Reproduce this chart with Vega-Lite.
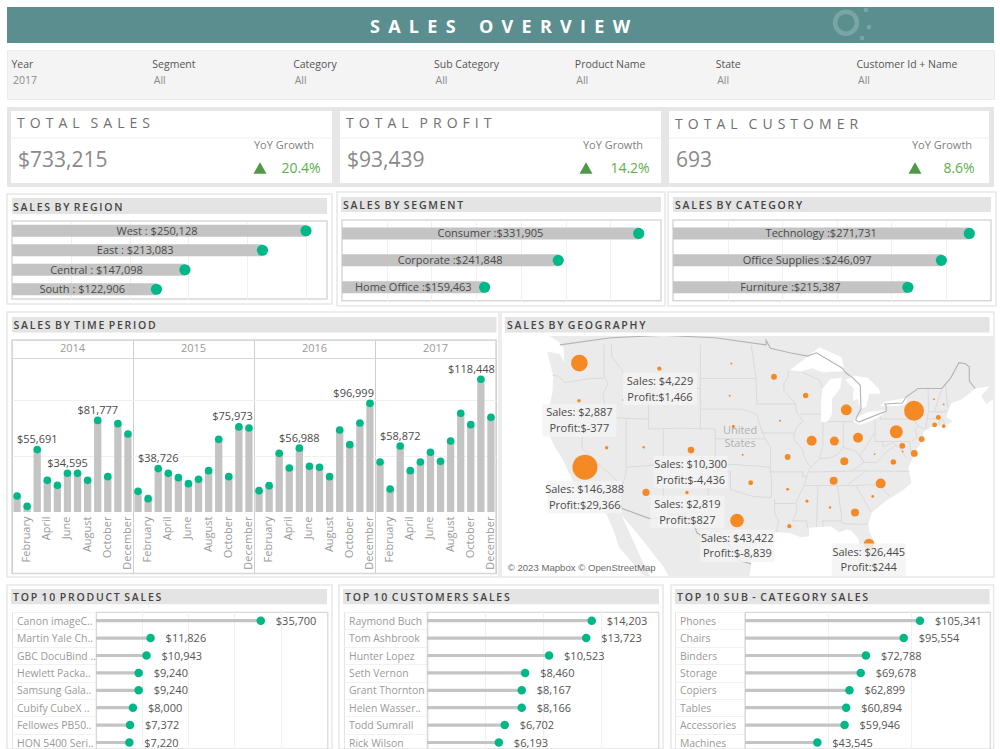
{"$schema":"https://vega.github.io/schema/vega-lite/v6.json","padding":0,"background":"white","config":{"font":"Open Sans","view":{"stroke":null}},"bounds":"flush","spacing":0,"vconcat":[
{"bounds":"flush","spacing":0,"vconcat":[{"width":1,"height":7,"mark":"text","encoding":{}},{"bounds":"flush","spacing":0,"hconcat":[{"width":7,"height":1,"mark":"text","encoding":{}},
{"width":987,"height":36,"view":{"fill":"#5b8e8e"},"data":{"values":[{"p":0,"title":"S \u200a\u200aA \u200a\u200aL \u200a\u200aE \u200a\u200aS \u00a0\u00a0\u00a0 O \u200a\u200aV \u200a\u200aE \u200a\u200aR \u200a\u200aV \u200a\u200aI \u200a\u200aE \u200a\u200aW"},{"p":1},{"p":2},{"p":3}]},
"layer":[
{"transform":[{"filter":"datum.p===0"}],"mark":{"type":"point","filled":false,"strokeWidth":4.5,"color":"#8fb5b5","size":480,"opacity":0.6},"encoding":{"x":{"field":"p","type":"quantitative","axis":null,"scale":{"domain":[0,1,2,3],"range":[839,859,862,855],"nice":false,"zero":false}},"y":{"field":"p","type":"quantitative","axis":null,"scale":{"domain":[0,1,2,3],"range":[15.7,3,20,31],"nice":false,"zero":false}}}},
{"transform":[{"filter":"datum.p!==0"}],"mark":{"type":"circle","color":"#8fb5b5","size":22,"opacity":0.6},"encoding":{"x":{"field":"p","type":"quantitative","axis":null,"scale":{"domain":[0,1,2,3],"range":[839,859,862,855],"nice":false,"zero":false}},"y":{"field":"p","type":"quantitative","axis":null,"scale":{"domain":[0,1,2,3],"range":[15.7,3,20,31],"nice":false,"zero":false}}}},
{"transform":[{"filter":"datum.p===0"}],"mark":{"type":"text","color":"white","fontWeight":"bold","fontSize":18,"dx":-0.5,"dy":2.5},"encoding":{"text":{"field":"title"}}}
]}]}]},
{"bounds":"flush","spacing":0,"vconcat":[{"width":1,"height":50,"mark":"text","encoding":{}},{"bounds":"flush","spacing":0,"hconcat":[{"width":7,"height":1,"mark":"text","encoding":{}},
{"width":987,"height":49,"view":{"fill":"#f4f4f4","stroke":"#ececec"},"data":{"values":[{"f":"Year","v":"2017"},{"f":"Segment","v":"All"},{"f":"Category","v":"All"},{"f":"Sub Category","v":"All"},{"f":"Product Name","v":"All"},{"f":"State","v":"All"},{"f":"Customer Id + Name","v":"All"}]},
"encoding":{"x":{"field":"f","type":"nominal","sort":null,"axis":null,"scale":{"type":"point","range":[4.5,849.5],"padding":0}}},
"layer":[{"mark":{"type":"text","align":"left","fontSize":10.5,"color":"#555555","dy":-9.7},"encoding":{"text":{"field":"f"}}},{"mark":{"type":"text","align":"left","fontSize":10.5,"color":"#8a8a8a","dx":1.5,"dy":6},"encoding":{"text":{"field":"v"}}}]}]}]},
{"bounds":"flush","spacing":0,"vconcat":[{"width":1,"height":107,"mark":"text","encoding":{}},{"bounds":"flush","spacing":0,"hconcat":[{"width":7,"height":1,"mark":"text","encoding":{}},{"width":987,"height":80,"view":{"fill":"#e6e6e6"},"mark":"text","encoding":{}}]}]},
{"bounds":"flush","spacing":0,"vconcat":[{"width":1,"height":111,"mark":"text","encoding":{}},{"bounds":"flush","spacing":0,"hconcat":[{"width":11,"height":1,"mark":"text","encoding":{}},
{"width":321,"height":72,"view":{"fill":"white"},"data":{"values":[{"p":0},{"p":1,"t":"T \u200aO \u200aT \u200aA \u200aL \u00a0 S \u200aA \u200aL \u200aE \u200aS"},{"p":2,"t":"$733,215"},{"p":3,"t":"YoY Growth"},{"p":4},{"p":5,"t":"20.4%"}]},
"layer":[{"transform":[{"filter":"datum.p===0"}],"mark":{"type":"rule","color":"#f0f0f0"},"encoding":{"y":{"field":"p","type":"quantitative","axis":null,"scale":{"domain":[0,1,2,3,4,5],"range":[27,12,49,34,57,57],"nice":false,"zero":false}}}},
{"encoding":{"x":{"field":"p","type":"quantitative","axis":null,"scale":{"domain":[0,1,2,3,4,5],"range":[0,6,7,273,249,290],"nice":false,"zero":false}},"y":{"field":"p","type":"quantitative","axis":null,"scale":{"domain":[0,1,2,3,4,5],"range":[27,12,49,34,57,57],"nice":false,"zero":false}}},
"layer":[{"transform":[{"filter":"datum.p===1"}],"mark":{"type":"text","align":"left","fontSize":14,"color":"#707070","dy":1},"encoding":{"text":{"field":"t"}}},
{"transform":[{"filter":"datum.p===2"}],"mark":{"type":"text","align":"left","fontSize":21,"color":"#8a8a8a","dy":1},"encoding":{"text":{"field":"t"}}},
{"transform":[{"filter":"datum.p===3"}],"mark":{"type":"text","fontSize":11,"color":"#808080","dy":1},"encoding":{"text":{"field":"t"}}},
{"transform":[{"filter":"datum.p===4"}],"mark":{"type":"point","shape":"triangle-up","filled":true,"opacity":1,"size":170,"color":"#4e9a47"}},
{"transform":[{"filter":"datum.p===5"}],"mark":{"type":"text","fontSize":14,"color":"#5cb04c","dy":1},"encoding":{"text":{"field":"t"}}}]}]}]}]},
{"bounds":"flush","spacing":0,"vconcat":[{"width":1,"height":111,"mark":"text","encoding":{}},{"bounds":"flush","spacing":0,"hconcat":[{"width":340,"height":1,"mark":"text","encoding":{}},
{"width":321,"height":72,"view":{"fill":"white"},"data":{"values":[{"p":0},{"p":1,"t":"T \u200aO \u200aT \u200aA \u200aL \u00a0 P \u200aR \u200aO \u200aF \u200aI \u200aT"},{"p":2,"t":"$93,439"},{"p":3,"t":"YoY Growth"},{"p":4},{"p":5,"t":"14.2%"}]},
"layer":[{"transform":[{"filter":"datum.p===0"}],"mark":{"type":"rule","color":"#f0f0f0"},"encoding":{"y":{"field":"p","type":"quantitative","axis":null,"scale":{"domain":[0,1,2,3,4,5],"range":[27,12,49,34,57,57],"nice":false,"zero":false}}}},
{"encoding":{"x":{"field":"p","type":"quantitative","axis":null,"scale":{"domain":[0,1,2,3,4,5],"range":[0,6,7,273,246,290],"nice":false,"zero":false}},"y":{"field":"p","type":"quantitative","axis":null,"scale":{"domain":[0,1,2,3,4,5],"range":[27,12,49,34,57,57],"nice":false,"zero":false}}},
"layer":[{"transform":[{"filter":"datum.p===1"}],"mark":{"type":"text","align":"left","fontSize":14,"color":"#707070","dy":1},"encoding":{"text":{"field":"t"}}},
{"transform":[{"filter":"datum.p===2"}],"mark":{"type":"text","align":"left","fontSize":21,"color":"#8a8a8a","dy":1},"encoding":{"text":{"field":"t"}}},
{"transform":[{"filter":"datum.p===3"}],"mark":{"type":"text","fontSize":11,"color":"#808080","dy":1},"encoding":{"text":{"field":"t"}}},
{"transform":[{"filter":"datum.p===4"}],"mark":{"type":"point","shape":"triangle-up","filled":true,"opacity":1,"size":170,"color":"#4e9a47"}},
{"transform":[{"filter":"datum.p===5"}],"mark":{"type":"text","fontSize":14,"color":"#5cb04c","dy":1},"encoding":{"text":{"field":"t"}}}]}]}]}]},
{"bounds":"flush","spacing":0,"vconcat":[{"width":1,"height":111,"mark":"text","encoding":{}},{"bounds":"flush","spacing":0,"hconcat":[{"width":669,"height":1,"mark":"text","encoding":{}},
{"width":320,"height":72,"view":{"fill":"white"},"data":{"values":[{"p":0},{"p":1,"t":"T \u200aO \u200aT \u200aA \u200aL \u00a0 C \u200aU \u200aS \u200aT \u200aO \u200aM \u200aE \u200aR"},{"p":2,"t":"693"},{"p":3,"t":"YoY Growth"},{"p":4},{"p":5,"t":"8.6%"}]},
"layer":[{"transform":[{"filter":"datum.p===0"}],"mark":{"type":"rule","color":"#f0f0f0"},"encoding":{"y":{"field":"p","type":"quantitative","axis":null,"scale":{"domain":[0,1,2,3,4,5],"range":[27,13,49,34,57,57],"nice":false,"zero":false}}}},
{"encoding":{"x":{"field":"p","type":"quantitative","axis":null,"scale":{"domain":[0,1,2,3,4,5],"range":[0,6,7,273,246,290],"nice":false,"zero":false}},"y":{"field":"p","type":"quantitative","axis":null,"scale":{"domain":[0,1,2,3,4,5],"range":[27,13,49,34,57,57],"nice":false,"zero":false}}},
"layer":[{"transform":[{"filter":"datum.p===1"}],"mark":{"type":"text","align":"left","fontSize":14,"color":"#707070","dy":1},"encoding":{"text":{"field":"t"}}},
{"transform":[{"filter":"datum.p===2"}],"mark":{"type":"text","align":"left","fontSize":21,"color":"#8a8a8a","dy":1},"encoding":{"text":{"field":"t"}}},
{"transform":[{"filter":"datum.p===3"}],"mark":{"type":"text","fontSize":11,"color":"#808080","dy":1},"encoding":{"text":{"field":"t"}}},
{"transform":[{"filter":"datum.p===4"}],"mark":{"type":"point","shape":"triangle-up","filled":true,"opacity":1,"size":170,"color":"#4e9a47"}},
{"transform":[{"filter":"datum.p===5"}],"mark":{"type":"text","fontSize":14,"color":"#5cb04c","dy":1},"encoding":{"text":{"field":"t"}}}]}]}]}]},

{"bounds":"flush","spacing":0,"vconcat":[{"width":1,"height":194,"mark":"text","encoding":{}},{"bounds":"flush","spacing":0,"hconcat":[{"width":7,"height":1,"mark":"text","encoding":{}},{"width":325,"height":110,"view":{"stroke":"#e8e8e8","strokeWidth":1.5},"mark":"text","encoding":{}}]}]},
{"bounds":"flush","spacing":0,"vconcat":[{"width":1,"height":192,"mark":"text","encoding":{}},{"bounds":"flush","spacing":0,"hconcat":[{"width":337,"height":1,"mark":"text","encoding":{}},{"width":328,"height":114,"view":{"stroke":"#e8e8e8","strokeWidth":1.5},"mark":"text","encoding":{}}]}]},
{"bounds":"flush","spacing":0,"vconcat":[{"width":1,"height":192,"mark":"text","encoding":{}},{"bounds":"flush","spacing":0,"hconcat":[{"width":668,"height":1,"mark":"text","encoding":{}},{"width":328,"height":114,"view":{"stroke":"#e8e8e8","strokeWidth":1.5},"mark":"text","encoding":{}}]}]},
{"bounds":"flush","spacing":0,"vconcat":[{"width":1,"height":198,"mark":"text","encoding":{}},{"bounds":"flush","spacing":0,"hconcat":[{"width":12,"height":1,"mark":"text","encoding":{}},
{"width":315,"height":16,"view":{"fill":"#e4e4e4"},"data":{"values":[{"t":"S\u2009A\u2009L\u2009E\u2009S \u2009B\u2009Y \u2009R\u2009E\u2009G\u2009I\u2009O\u2009N"}]},"mark":{"type":"text","align":"left","dx":1,"dy":1.5,"fontSize":10.5,"fontWeight":600,"color":"#444444"},"encoding":{"x":{"datum":0,"type":"quantitative","axis":null,"scale":{"domain":[0,1]}},"text":{"field":"t"}}}]}]},
{"bounds":"flush","spacing":0,"vconcat":[{"width":1,"height":197,"mark":"text","encoding":{}},{"bounds":"flush","spacing":0,"hconcat":[{"width":341,"height":1,"mark":"text","encoding":{}},
{"width":320,"height":15,"view":{"fill":"#e4e4e4"},"data":{"values":[{"t":"S\u2009A\u2009L\u2009E\u2009S \u2009B\u2009Y \u2009S\u2009E\u2009G\u2009M\u2009E\u2009N\u2009T"}]},"mark":{"type":"text","align":"left","dx":2,"dy":1,"fontSize":10.5,"fontWeight":600,"color":"#444444"},"encoding":{"x":{"datum":0,"type":"quantitative","axis":null,"scale":{"domain":[0,1]}},"text":{"field":"t"}}}]}]},
{"bounds":"flush","spacing":0,"vconcat":[{"width":1,"height":197,"mark":"text","encoding":{}},{"bounds":"flush","spacing":0,"hconcat":[{"width":673,"height":1,"mark":"text","encoding":{}},
{"width":318,"height":15,"view":{"fill":"#e4e4e4"},"data":{"values":[{"t":"S\u2009A\u2009L\u2009E\u2009S \u2009B\u2009Y \u2009C\u2009A\u2009T\u2009E\u2009G\u2009O\u2009R\u2009Y"}]},"mark":{"type":"text","align":"left","dx":2,"dy":1,"fontSize":10.5,"fontWeight":600,"color":"#444444"},"encoding":{"x":{"datum":0,"type":"quantitative","axis":null,"scale":{"domain":[0,1]}},"text":{"field":"t"}}}]}]},

{"bounds":"flush","spacing":0,"vconcat":[{"width":1,"height":221,"mark":"text","encoding":{}},{"bounds":"flush","spacing":0,"hconcat":[{"width":12,"height":1,"mark":"text","encoding":{}},
{"width":315,"height":78,"view":{"stroke":"#d8d8d8","strokeWidth":1.5},"data":{"values":[{"name":"West","sales":250128,"label":"West : $250,128"},{"name":"East","sales":213083,"label":"East : $213,083"},{"name":"Central","sales":147098,"label":"Central : $147,098"},{"name":"South","sales":122906,"label":"South : $122,906"}]},
"encoding":{"y":{"field":"name","type":"nominal","sort":null,"axis":null,"scale":{"type":"band","paddingInner":0,"paddingOuter":0}}},
"layer":[{"mark":{"type":"bar","size":12,"color":"#c4c4c4"},"encoding":{"x":{"field":"sales","type":"quantitative","scale":{"domain":[0,268000],"nice":false},"axis":{"values":[50000,100000,150000,200000,250000],"grid":true,"gridColor":"#f0f0f0","labels":false,"ticks":false,"domain":false,"title":null}}}},
{"mark":{"type":"circle","size":125,"color":"#00b887","opacity":1},"encoding":{"x":{"field":"sales","type":"quantitative","scale":{"domain":[0,268000],"nice":false},"axis":null}}},
{"mark":{"type":"text","fontSize":11,"color":"#4a4a4a","dx":-2,"dy":1},"encoding":{"x":{"field":"sales","type":"quantitative","scale":{"domain":[0,536000],"nice":false},"axis":null},"text":{"field":"label"}}}],"resolve":{"scale":{"x":"independent"}}}]}]},
{"bounds":"flush","spacing":0,"vconcat":[{"width":1,"height":219.5,"mark":"text","encoding":{}},{"bounds":"flush","spacing":0,"hconcat":[{"width":342,"height":1,"mark":"text","encoding":{}},
{"width":319,"height":80.7,"view":{"stroke":"#d8d8d8","strokeWidth":1.5},"data":{"values":[{"name":"Consumer","sales":331905,"label":"Consumer :$331,905"},{"name":"Corporate","sales":241848,"label":"Corporate :$241,848"},{"name":"Home Office","sales":159463,"label":"Home Office :$159,463"}]},
"encoding":{"y":{"field":"name","type":"nominal","sort":null,"axis":null,"scale":{"type":"band","paddingInner":0,"paddingOuter":0}}},
"layer":[{"mark":{"type":"bar","size":12,"color":"#c4c4c4"},"encoding":{"x":{"field":"sales","type":"quantitative","scale":{"domain":[0,356800],"nice":false},"axis":{"values":[50000,100000,150000,200000,250000,300000],"grid":true,"gridColor":"#f0f0f0","labels":false,"ticks":false,"domain":false,"title":null}}}},
{"mark":{"type":"circle","size":125,"color":"#00b887","opacity":1},"encoding":{"x":{"field":"sales","type":"quantitative","scale":{"domain":[0,356800],"nice":false},"axis":null}}},
{"mark":{"type":"text","fontSize":11,"color":"#4a4a4a","dy":1},"encoding":{"x":{"field":"sales","type":"quantitative","scale":{"domain":[0,713600],"nice":false},"axis":null},"text":{"field":"label"}}}],"resolve":{"scale":{"x":"independent"}}}]}]},
{"bounds":"flush","spacing":0,"vconcat":[{"width":1,"height":219.5,"mark":"text","encoding":{}},{"bounds":"flush","spacing":0,"hconcat":[{"width":673,"height":1,"mark":"text","encoding":{}},
{"width":318,"height":80.7,"view":{"stroke":"#d8d8d8","strokeWidth":1.5},"data":{"values":[{"name":"Technology","sales":271731,"label":"Technology :$271,731"},{"name":"Office Supplies","sales":246097,"label":"Office Supplies :$246,097"},{"name":"Furniture","sales":215387,"label":"Furniture :$215,387"}]},
"encoding":{"y":{"field":"name","type":"nominal","sort":null,"axis":null,"scale":{"type":"band","paddingInner":0,"paddingOuter":0}}},
"layer":[{"mark":{"type":"bar","size":12,"color":"#c4c4c4"},"encoding":{"x":{"field":"sales","type":"quantitative","scale":{"domain":[0,291600],"nice":false},"axis":{"values":[50000,100000,150000,200000,250000],"grid":true,"gridColor":"#f0f0f0","labels":false,"ticks":false,"domain":false,"title":null}}}},
{"mark":{"type":"circle","size":125,"color":"#00b887","opacity":1},"encoding":{"x":{"field":"sales","type":"quantitative","scale":{"domain":[0,291600],"nice":false},"axis":null}}},
{"mark":{"type":"text","fontSize":11,"color":"#4a4a4a","dy":1},"encoding":{"x":{"field":"sales","type":"quantitative","scale":{"domain":[0,583200],"nice":false},"axis":null},"text":{"field":"label"}}}],"resolve":{"scale":{"x":"independent"}}}]}]},

{"bounds":"flush","spacing":0,"vconcat":[{"width":1,"height":312,"mark":"text","encoding":{}},{"bounds":"flush","spacing":0,"hconcat":[{"width":7,"height":1,"mark":"text","encoding":{}},{"width":492,"height":265,"view":{"stroke":"#e8e8e8","strokeWidth":1.5},"mark":"text","encoding":{}}]}]},
{"bounds":"flush","spacing":0,"vconcat":[{"width":1,"height":312,"mark":"text","encoding":{}},{"bounds":"flush","spacing":0,"hconcat":[{"width":501,"height":1,"mark":"text","encoding":{}},{"width":493,"height":265,"view":{"stroke":"#e8e8e8","strokeWidth":1.5},"mark":"text","encoding":{}}]}]},
{"bounds":"flush","spacing":0,"vconcat":[{"width":1,"height":316.5,"mark":"text","encoding":{}},{"bounds":"flush","spacing":0,"hconcat":[{"width":11.5,"height":1,"mark":"text","encoding":{}},
{"width":484.5,"height":15.5,"view":{"fill":"#e4e4e4"},"data":{"values":[{"t":"S\u2009A\u2009L\u2009E\u2009S \u2009B\u2009Y \u2009T\u2009I\u2009M\u2009E \u2009P\u2009E\u2009R\u2009I\u2009O\u2009D"}]},"mark":{"type":"text","align":"left","dx":1.5,"dy":1,"fontSize":10.5,"fontWeight":600,"color":"#444444"},"encoding":{"x":{"datum":0,"type":"quantitative","axis":null,"scale":{"domain":[0,1]}},"text":{"field":"t"}}}]}]},
{"bounds":"flush","spacing":0,"vconcat":[{"width":1,"height":339.5,"mark":"text","encoding":{}},{"bounds":"flush","spacing":0,"hconcat":[{"width":11.3,"height":1,"mark":"text","encoding":{}},
{"width":484,"height":233.5,"view":{"stroke":"#d8d8d8","strokeWidth":1.5},"data":{"values":[{"year":"2014"},{"year":"2015"},{"year":"2016"},{"year":"2017"}]},"mark":{"type":"text","text":""},"encoding":{"x":{"field":"year","type":"nominal","scale":{"type":"band","paddingInner":0,"paddingOuter":0},"axis":{"grid":true,"tickBand":"extent","gridColor":"#cfcfcf","labels":false,"ticks":false,"domain":false,"title":null}}}}]}]},
{"bounds":"flush","spacing":0,"vconcat":[{"width":1,"height":339.5,"mark":"text","encoding":{}},{"bounds":"flush","spacing":0,"hconcat":[{"width":11.3,"height":1,"mark":"text","encoding":{}},
{"width":484,"height":18,"view":{"stroke":"#d8d8d8"},"data":{"values":[{"year":"2014"},{"year":"2015"},{"year":"2016"},{"year":"2017"}]},"mark":{"type":"text","fontSize":11,"color":"#9a9a9a"},"encoding":{"x":{"field":"year","type":"nominal","scale":{"type":"band","paddingInner":0,"paddingOuter":0},"axis":null},"text":{"field":"year"}}}]}]},
{"bounds":"flush","spacing":0,"vconcat":[{"width":1,"height":357,"mark":"text","encoding":{}},{"bounds":"flush","spacing":0,"hconcat":[{"width":11.3,"height":1,"mark":"text","encoding":{}},
{"width":484,"height":155,"data":{"values":[
{"period":"2014 January","sales":14280},{"period":"2014 February","sales":5058},{"period":"2014 March","sales":55691,"label":"$55,691"},{"period":"2014 April","sales":28262},{"period":"2014 May","sales":23800},{"period":"2014 June","sales":34595,"label":"$34,595"},{"period":"2014 July","sales":34510},{"period":"2014 August","sales":28262},{"period":"2014 September","sales":81777,"label":"$81,777"},{"period":"2014 October","sales":31535},{"period":"2014 November","sales":78837},{"period":"2014 December","sales":69615},
{"period":"2015 January","sales":18445},{"period":"2015 February","sales":11900},{"period":"2015 March","sales":38726,"label":"$38,726"},{"period":"2015 April","sales":34510},{"period":"2015 May","sales":30642},{"period":"2015 June","sales":25287},{"period":"2015 July","sales":29155},{"period":"2015 August","sales":36890},{"period":"2015 September","sales":64855},{"period":"2015 October","sales":31535},{"period":"2015 November","sales":75973,"labelR":"$75,973"},{"period":"2015 December","sales":74970},
{"period":"2016 January","sales":19040},{"period":"2016 February","sales":23502},{"period":"2016 March","sales":52360},{"period":"2016 April","sales":39270},{"period":"2016 May","sales":56988,"label":"$56,988"},{"period":"2016 June","sales":40757},{"period":"2016 July","sales":39865},{"period":"2016 August","sales":31535},{"period":"2016 September","sales":73185},{"period":"2016 October","sales":60095},{"period":"2016 November","sales":79432},{"period":"2016 December","sales":96999,"labelS":"$96,999"},
{"period":"2017 January","sales":44625},{"period":"2017 February","sales":20527},{"period":"2017 March","sales":58872,"label":"$58,872"},{"period":"2017 April","sales":36890},{"period":"2017 May","sales":44625},{"period":"2017 June","sales":53252},{"period":"2017 July","sales":45220},{"period":"2017 August","sales":63367},{"period":"2017 September","sales":88060},{"period":"2017 October","sales":77945},{"period":"2017 November","sales":118448,"labelR":"$118,448"},{"period":"2017 December","sales":84490}]},
"encoding":{"x":{"field":"period","type":"nominal","sort":null,"scale":{"type":"band","paddingInner":0.28,"paddingOuter":0.14},"axis":{"values":["2014 February","2014 April","2014 June","2014 August","2014 October","2014 December","2015 February","2015 April","2015 June","2015 August","2015 October","2015 December","2016 February","2016 April","2016 June","2016 August","2016 October","2016 December","2017 February","2017 April","2017 June","2017 August","2017 October","2017 December"],"labelExpr":"split(datum.label,' ')[1]","labelAngle":270,"labelAlign":"right","labelBaseline":"middle","labelPadding":4,"labelFontSize":11,"labelColor":"#9a9a9a","labelOverlap":false,"labelBound":false,"labelFlush":false,"ticks":false,"domain":false,"title":null}},
"y":{"field":"sales","type":"quantitative","scale":{"domain":[0,138355],"nice":false},"axis":{"values":[50000,100000],"grid":true,"gridColor":"#f0f0f0","labels":false,"ticks":false,"domain":false,"title":null}}},
"layer":[{"mark":{"type":"bar","color":"#c4c4c4"}},{"mark":{"type":"circle","size":58,"color":"#00b887","opacity":1}},
{"transform":[{"filter":"isValid(datum.label)"}],"mark":{"type":"text","fontSize":11,"color":"#4a4a4a","dy":-9.5},"encoding":{"text":{"field":"label"}}},
{"transform":[{"filter":"isValid(datum.labelR)"}],"mark":{"type":"text","fontSize":11,"color":"#4a4a4a","dy":-9.5,"align":"right","dx":14},"encoding":{"text":{"field":"labelR"}}},
{"transform":[{"filter":"isValid(datum.labelS)"}],"mark":{"type":"text","fontSize":11,"color":"#4a4a4a","dy":-9.5,"align":"right","dx":4},"encoding":{"text":{"field":"labelS"}}}]}]}]},

{"bounds":"flush","spacing":0,"vconcat":[{"width":1,"height":316.5,"mark":"text","encoding":{}},{"bounds":"flush","spacing":0,"hconcat":[{"width":505,"height":1,"mark":"text","encoding":{}},
{"width":484.5,"height":15.5,"view":{"fill":"#e4e4e4"},"data":{"values":[{"t":"S\u2009A\u2009L\u2009E\u2009S \u2009B\u2009Y \u2009G\u2009E\u2009O\u2009G\u2009R\u2009A\u2009P\u2009H\u2009Y"}]},"mark":{"type":"text","align":"left","dx":2,"dy":1,"fontSize":10.5,"fontWeight":600,"color":"#444444"},"encoding":{"x":{"datum":0,"type":"quantitative","axis":null,"scale":{"domain":[0,1]}},"text":{"field":"t"}}}]}]},
{"bounds":"flush","spacing":0,"vconcat":[{"width":1,"height":336,"mark":"text","encoding":{}},{"bounds":"flush","spacing":0,"hconcat":[{"width":502,"height":1,"mark":"text","encoding":{}},
{"width":491,"height":240,"view":{"fill":"white"},"projection":{"type":"mercator","scale":425,"center":[-97.7,38.2],"translate":[245.5,120]},
"layer":[
{"data":{"values":{"type":"FeatureCollection","features":[{"type":"Feature","properties":{},"geometry":{"type":"Polygon","coordinates":[[[-135,52],[-60,52],[-60,46],[-63,44.7],[-65.5,43.5],[-66.2,44.3],[-65,45.2],[-67,45],[-68,44.4],[-69,43.9],[-70.2,43.6],[-70.7,42.7],[-70.9,42.2],[-70,41.8],[-70.6,41.5],[-71.4,41.4],[-72.9,41.2],[-74,40.7],[-74,39.8],[-74.9,38.9],[-75.1,38.5],[-75.9,37.2],[-76,36.9],[-75.6,35.3],[-76.6,34.6],[-77.9,33.9],[-79.2,33.2],[-80.9,32],[-81.4,30.7],[-81.3,29.8],[-80.5,28.3],[-80,26.8],[-80.3,25.3],[-81.1,25.1],[-81.8,26.1],[-82.7,27.7],[-82.7,28.9],[-83.7,29.9],[-84.3,30],[-85.3,29.7],[-86.5,30.4],[-88,30.3],[-89.4,30.2],[-89.4,29.2],[-90.5,29.1],[-92,29.6],[-93.8,29.7],[-95,29.2],[-97,27.9],[-97.4,26.9],[-97.2,25.9],[-97.8,22.3],[-97.8,20],[-105.5,20],[-109,25.5],[-112.5,29.5],[-114.7,31.7],[-112,26.5],[-110,23],[-112,24.8],[-115,27.9],[-115.8,30],[-117.1,32.5],[-117.3,33.1],[-118.4,33.8],[-119.2,34.1],[-120.6,34.5],[-121.9,36.6],[-122.5,37.7],[-123.8,39.3],[-124.4,40.4],[-124.2,42],[-124.5,42.8],[-124,44.6],[-123.9,46.2],[-124.7,48.4],[-123,48.2],[-122.4,47.4],[-122.5,48.8],[-123.2,49.3],[-125,50],[-128,51],[-135,52]]]}}]},"format":{"type":"json","property":"features"}},"mark":{"type":"geoshape","fill":"#ebebeb","stroke":null,"clip":true}},
{"data":{"values":{"type":"FeatureCollection","features":[
{"type":"Feature","properties":{},"geometry":{"type":"Polygon","coordinates":[[[-92,46.7],[-89.5,48],[-88,48.8],[-85,47.9],[-84.6,46.6],[-86,46.6],[-87.5,46.5],[-89,46.9],[-90.5,46.6],[-92,46.7]]]}},
{"type":"Feature","properties":{},"geometry":{"type":"Polygon","coordinates":[[[-87.8,41.7],[-87.8,43.5],[-87.6,45],[-86.5,45.9],[-85,46],[-85.2,45],[-86.3,44],[-86.3,42.5],[-86.9,41.7],[-87.8,41.7]]]}},
{"type":"Feature","properties":{},"geometry":{"type":"Polygon","coordinates":[[[-84.5,45.8],[-83.3,46.2],[-81.5,46],[-80,45],[-79.8,44.5],[-81.3,44.5],[-81.7,43.2],[-82.4,43],[-82.9,44],[-83.5,43.8],[-83.4,45],[-84.5,45.8]]]}},
{"type":"Feature","properties":{},"geometry":{"type":"Polygon","coordinates":[[[-83.4,41.7],[-83.2,42.1],[-81.5,42.7],[-79,42.9],[-78.9,42.8],[-80.5,42],[-82.5,41.4],[-83.4,41.7]]]}},
{"type":"Feature","properties":{},"geometry":{"type":"Polygon","coordinates":[[[-79.8,43.3],[-79.3,43.7],[-77,44],[-76.2,44.1],[-76.3,43.5],[-77.5,43.3],[-79,43.3],[-79.8,43.3]]]}}]},"format":{"type":"json","property":"features"}},"mark":{"type":"geoshape","fill":"#ffffff","stroke":null,"clip":true}},
{"data":{"values":{"type":"FeatureCollection","features":[{"type":"Feature","properties":{},"geometry":{"type":"MultiLineString","coordinates":[
[[-124,46.25],[-123.2,46.15],[-122.3,45.55],[-119,45.93],[-116.9,46]],[[-117.04,49],[-117.04,46.4],[-116.9,46],[-116.5,45.5],[-117.2,44.4],[-117,43.8],[-117.03,42]],[[-124.2,42],[-111.05,42]],[[-120,42],[-120,39],[-114.6,35],[-114.7,32.7]],[[-114.6,35],[-114.1,36.2],[-114.05,37]],[[-114.05,42],[-114.05,37]],[[-114.05,37],[-94.62,37]],[[-109.05,37],[-109.05,31.3]],[[-103,37],[-103,32],[-106.6,32]],[[-109.05,41],[-109.05,37]],[[-111.05,45],[-111.05,41],[-102.05,41]],[[-111.05,45],[-104.05,45]],[[-104.05,45],[-104.05,41]],[[-116.05,49],[-116.05,48],[-114.5,46.6],[-114.3,45.5],[-113,44.5],[-111.05,44.5]],[[-104.05,49],[-104.05,45]],[[-104.05,45.94],[-96.56,45.94]],[[-104.05,43],[-98.5,43],[-96.45,42.5]],[[-102.05,41],[-102.05,37]],[[-102.05,40],[-95.3,40]],[[-103,36.5],[-100,36.5],[-100,34.55],[-97,33.8],[-94.5,33.65]],[[-94.62,36.5],[-94.43,35.4],[-94.48,33.65]],[[-94.05,33.55],[-94.05,31.9],[-93.5,31],[-93.8,29.7]],[[-95.3,40],[-94.6,39.1],[-94.62,36.5]],[[-94.62,36.5],[-90.2,36.5],[-90.3,36],[-89.7,36]],[[-94.05,33],[-91.2,33]],[[-97.2,49],[-96.56,45.94],[-96.45,43.5]],[[-96.45,43.5],[-91.2,43.5]],[[-95.8,40.6],[-91.7,40.6],[-91.4,40.4]],[[-96.45,42.5],[-96,41.3],[-95.3,40]],[[-92.1,46.7],[-92.3,46],[-92.8,45.5],[-92.8,44.8],[-91.2,43.5],[-91.1,42.7],[-90.2,41.8],[-91.1,41.2],[-91.4,40.4],[-91.5,40],[-90.2,38.8],[-90.2,38.4],[-89.5,37.3],[-89.15,37],[-89.5,36.5],[-89.7,36],[-90.1,35],[-91.2,33],[-91,32.3],[-91.6,31],[-89.7,31],[-89.6,30.2]],[[-90.6,42.5],[-87.8,42.5]],[[-90.4,46.55],[-88,45.8],[-87.6,45.1]],[[-87.53,41.7],[-87.53,39.3],[-88,37.9]],[[-89.15,37],[-88,37.9],[-86.5,38],[-85.5,38.4],[-84.8,39.1],[-83,38.7],[-82.6,38.2],[-81.7,39.2],[-80.6,40.6]],[[-84.8,41.75],[-84.8,39.1]],[[-87,41.76],[-84.8,41.75],[-83.5,41.73]],[[-80.52,42],[-80.52,39.72]],[[-79.76,42.27],[-79.76,42],[-75.35,42],[-74.7,41.35],[-75.1,40.9],[-74.8,40.2],[-75.5,39.8]],[[-74.7,41.35],[-74,41]],[[-80.52,39.72],[-75.79,39.72]],[[-79.48,39.72],[-79.48,39.2],[-78,39.6],[-77.7,39.3],[-78.9,38.7],[-80.3,37.5],[-81.9,37.5],[-82.6,38.2]],[[-89.5,36.5],[-88,36.5],[-83.7,36.6],[-81.7,36.6],[-75.9,36.55]],[[-82.6,38.2],[-82,37.5],[-83.7,36.6]],[[-90.1,35],[-84.3,35],[-83.1,35],[-81,35.1],[-79.7,34.8],[-78.55,33.86]],[[-81.7,36.6],[-84.3,35]],[[-83.1,35],[-81.1,32.1]],[[-88.2,35],[-88.4,30.3]],[[-85.6,35],[-85.1,32],[-85,31]],[[-87.6,31],[-85,31],[-84.9,30.7],[-82.2,30.6],[-81.5,30.7]],[[-87.6,31],[-87.5,30.3]],[[-73.35,45],[-73.3,42.75],[-73.5,42.05],[-73.65,41]],[[-71.5,45],[-72.5,42.75]],[[-71,45.3],[-70.7,43.1]],[[-73.3,42.75],[-71.3,42.7],[-70.8,42.85]],[[-73.5,42.05],[-71.8,42],[-71.4,42],[-71.1,41.5]],[[-71.8,42],[-71.85,41.3]],[[-75.79,39.72],[-75.7,38.46],[-75.05,38.45]],[[-77.7,39.3],[-77,38.9],[-76.3,38]]]}}]},"format":{"type":"json","property":"features"}},"mark":{"type":"geoshape","filled":false,"stroke":"#d6d6d6","strokeWidth":0.8,"clip":true}},
{"data":{"values":{"type":"FeatureCollection","features":[{"type":"Feature","properties":{},"geometry":{"type":"MultiLineString","coordinates":[[[-123,49],[-95.2,49],[-95.2,49.4],[-94.6,48.7],[-92,48.3],[-89.6,48],[-88.4,48.3],[-84.9,46.9],[-84.5,46.5],[-83.5,46],[-82.5,45.3],[-82.4,43],[-83,42.2],[-83.1,41.9],[-82.7,41.7],[-79,42.8],[-79,43.3],[-79.2,43.5],[-76.8,43.6],[-76.3,44.2],[-74.7,45],[-71.5,45],[-70.3,46],[-69.2,47.4],[-68.3,47.3],[-67.8,47],[-67.8,45.7],[-67,45]],[[-117.1,32.5],[-114.7,32.7],[-114.8,32.5],[-111,31.3],[-108.2,31.3],[-108.2,31.8],[-106.5,31.8],[-104.9,30.6],[-104.5,29.6],[-103.2,29],[-102.5,29.8],[-101.4,29.8],[-100.3,28.3],[-99.5,27.5],[-99.1,26.4],[-97.2,25.9]]]}}]},"format":{"type":"json","property":"features"}},"mark":{"type":"geoshape","filled":false,"stroke":"#b4b4b4","strokeWidth":1.1,"clip":true}},
{"data":{"values":[{"lon":-98.7,"lat":40.3,"t":"United\nStates"}]},"mark":{"type":"text","lineBreak":"\n","lineHeight":13,"fontSize":11,"color":"#b0b0b0","dy":-4.5},"encoding":{"longitude":{"field":"lon","type":"quantitative"},"latitude":{"field":"lat","type":"quantitative"},"text":{"field":"t"}}},
{"data":{"values":[{"s":"WA","lon":-120.37,"lat":47.36,"sales":65000},{"s":"MT","lon":-109.59,"lat":46.85,"sales":4229},{"s":"OR","lon":-120.42,"lat":43.82,"sales":2887},{"s":"ID","lon":-114.44,"lat":43.88,"sales":1000},{"s":"ND","lon":-99.88,"lat":47.33,"sales":900},{"s":"SD","lon":-100.1,"lat":44.3,"sales":900},{"s":"NE","lon":-99.61,"lat":41.26,"sales":2500},{"s":"KS","lon":-98.35,"lat":38.34,"sales":1000},{"s":"MN","lon":-94.13,"lat":46.1,"sales":8000},{"s":"WI","lon":-89.86,"lat":44.33,"sales":7000},{"s":"IA","lon":-93.31,"lat":41.84,"sales":1000},{"s":"MI","lon":-84.38,"lat":42.93,"sales":28000},{"s":"IL","lon":-89.05,"lat":39.8,"sales":23000},{"s":"IN","lon":-85.99,"lat":39.76,"sales":19000},{"s":"OH","lon":-82.8,"lat":40.11,"sales":23000},{"s":"PA","lon":-77.64,"lat":40.72,"sales":40000},{"s":"NY","lon":-75.25,"lat":42.84,"sales":93000},{"s":"VT","lon":-72.56,"lat":43.97,"sales":800},{"s":"NH","lon":-71.25,"lat":43.46,"sales":900},{"s":"MA","lon":-71.97,"lat":42.17,"sales":5500},{"s":"CT","lon":-72.47,"lat":41.43,"sales":5500},{"s":"RI","lon":-71.25,"lat":41.3,"sales":3500},{"s":"NJ","lon":-74.22,"lat":39.97,"sales":8000},{"s":"MD","lon":-76.83,"lat":39.27,"sales":8000},{"s":"DC","lon":-76.78,"lat":38.68,"sales":800},{"s":"DE","lon":-75.21,"lat":38.47,"sales":11000},{"s":"VA","lon":-78.04,"lat":37.56,"sales":7000},{"s":"WV","lon":-80.56,"lat":38.4,"sales":800},{"s":"KY","lon":-84.65,"lat":37.63,"sales":15000},{"s":"TN","lon":-86.08,"lat":35.53,"sales":15000},{"s":"NC","lon":-79.75,"lat":35.24,"sales":23000},{"s":"SC","lon":-80.82,"lat":33.79,"sales":1800},{"s":"GA","lon":-83.21,"lat":31.98,"sales":15000},{"s":"FL","lon":-81.32,"lat":28.29,"sales":26445},{"s":"AL","lon":-86.58,"lat":32.55,"sales":1500},{"s":"MS","lon":-89.68,"lat":33.27,"sales":2500},{"s":"LA","lon":-92.06,"lat":30.4,"sales":4000},{"s":"AR","lon":-92.29,"lat":34.58,"sales":2000},{"s":"MO","lon":-92.29,"lat":38.09,"sales":8000},{"s":"OK","lon":-97.27,"lat":35.31,"sales":5500},{"s":"TX","lon":-99.12,"lat":31.06,"sales":43422},{"s":"NM","lon":-105.86,"lat":34.24,"sales":2819},{"s":"AZ","lon":-111.38,"lat":34.24,"sales":12000},{"s":"CO","lon":-105.32,"lat":38.82,"sales":10300},{"s":"UT","lon":-111.7,"lat":39.11,"sales":1500},{"s":"NV","lon":-116.69,"lat":39.07,"sales":2800},{"s":"CA","lon":-119.61,"lat":37.01,"sales":146388}]},"mark":{"type":"circle","color":"#f58a24","opacity":1},"encoding":{"longitude":{"field":"lon","type":"quantitative"},"latitude":{"field":"lat","type":"quantitative"},"size":{"field":"sales","type":"quantitative","legend":null,"scale":{"type":"linear","domain":[0,146388],"range":[0,625]}}}},
{"data":{"values":[{"lon":-109.5,"lat":44.94,"t":"Sales: $4,229\nProfit:$1,466"},{"lon":-120.37,"lat":41.87,"t":"Sales: $2,887\nProfit:$-377"},{"lon":-105.36,"lat":36.48,"t":"Sales: $10,300\nProfit:$-4,436"},{"lon":-119.65,"lat":33.72,"t":"Sales: $146,388\nProfit:$29,366"},{"lon":-105.81,"lat":32.05,"t":"Sales: $2,819\nProfit:$827"},{"lon":-99.07,"lat":28.09,"t":"Sales: $43,422\nProfit:$-8,839"},{"lon":-81.36,"lat":26.41,"t":"Sales: $26,445\nProfit:$244"}]},
"encoding":{"longitude":{"field":"lon","type":"quantitative"},"latitude":{"field":"lat","type":"quantitative"}},
"layer":[{"mark":{"type":"point","shape":"M-1,-0.44H1V0.44H-1Z","filled":true,"fill":"#f3f3f3","opacity":0.85,"strokeWidth":0,"size":5476}},{"mark":{"type":"text","lineBreak":"\n","lineHeight":15.7,"fontSize":11,"color":"#4a4a4a","dy":-7},"encoding":{"text":{"field":"t"}}}]},
{"data":{"values":[{"lon":-120.06,"lat":25.53,"t":"© 2023 Mapbox © OpenStreetMap"}]},"mark":{"type":"text","font":"Liberation Sans","fontSize":9.6,"color":"#6a6a6a","dy":1},"encoding":{"longitude":{"field":"lon","type":"quantitative"},"latitude":{"field":"lat","type":"quantitative"},"text":{"field":"t"}}}
]}]}]},

{"bounds":"flush","spacing":0,"vconcat":[{"width":1,"height":585,"mark":"text","encoding":{}},{"bounds":"flush","spacing":0,"hconcat":[{"width":7,"height":1,"mark":"text","encoding":{}},{"width":325,"height":164,"view":{"stroke":"#e8e8e8","strokeWidth":1.5},"mark":"text","encoding":{}}]}]},
{"bounds":"flush","spacing":0,"vconcat":[{"width":1,"height":585,"mark":"text","encoding":{}},{"bounds":"flush","spacing":0,"hconcat":[{"width":338.7,"height":1,"mark":"text","encoding":{}},{"width":324,"height":164,"view":{"stroke":"#e8e8e8","strokeWidth":1.5},"mark":"text","encoding":{}}]}]},
{"bounds":"flush","spacing":0,"vconcat":[{"width":1,"height":585,"mark":"text","encoding":{}},{"bounds":"flush","spacing":0,"hconcat":[{"width":670.7,"height":1,"mark":"text","encoding":{}},{"width":322.6,"height":164,"view":{"stroke":"#e8e8e8","strokeWidth":1.5},"mark":"text","encoding":{}}]}]},
{"bounds":"flush","spacing":0,"vconcat":[{"width":1,"height":589,"mark":"text","encoding":{}},{"bounds":"flush","spacing":0,"hconcat":[{"width":11,"height":1,"mark":"text","encoding":{}},
{"width":316,"height":15.3,"view":{"fill":"#e4e4e4"},"data":{"values":[{"t":"T\u2009O\u2009P \u20091\u20090 \u2009P\u2009R\u2009O\u2009D\u2009U\u2009C\u2009T \u2009S\u2009A\u2009L\u2009E\u2009S"}]},"mark":{"type":"text","align":"left","dx":2,"dy":1.7,"fontSize":10.5,"fontWeight":600,"color":"#444444"},"encoding":{"x":{"datum":0,"type":"quantitative","axis":null,"scale":{"domain":[0,1]}},"text":{"field":"t"}}}]}]},
{"bounds":"flush","spacing":0,"vconcat":[{"width":1,"height":589,"mark":"text","encoding":{}},{"bounds":"flush","spacing":0,"hconcat":[{"width":343,"height":1,"mark":"text","encoding":{}},
{"width":316,"height":15.3,"view":{"fill":"#e4e4e4"},"data":{"values":[{"t":"T\u2009O\u2009P \u20091\u20090 \u2009C\u2009U\u2009S\u2009T\u2009O\u2009M\u2009E\u2009R\u2009S \u2009S\u2009A\u2009L\u2009E\u2009S"}]},"mark":{"type":"text","align":"left","dx":2,"dy":1.7,"fontSize":10.5,"fontWeight":600,"color":"#444444"},"encoding":{"x":{"datum":0,"type":"quantitative","axis":null,"scale":{"domain":[0,1]}},"text":{"field":"t"}}}]}]},
{"bounds":"flush","spacing":0,"vconcat":[{"width":1,"height":589,"mark":"text","encoding":{}},{"bounds":"flush","spacing":0,"hconcat":[{"width":674.7,"height":1,"mark":"text","encoding":{}},
{"width":314.6,"height":15.3,"view":{"fill":"#e4e4e4"},"data":{"values":[{"t":"T\u2009O\u2009P \u20091\u20090 \u2009S\u2009U\u2009B \u2009- \u2009C\u2009A\u2009T\u2009E\u2009G\u2009O\u2009R\u2009Y \u2009S\u2009A\u2009L\u2009E\u2009S"}]},"mark":{"type":"text","align":"left","dx":2,"dy":1.7,"fontSize":10.5,"fontWeight":600,"color":"#444444"},"encoding":{"x":{"datum":0,"type":"quantitative","axis":null,"scale":{"domain":[0,1]}},"text":{"field":"t"}}}]}]},

{"bounds":"flush","spacing":0,"vconcat":[{"width":1,"height":612,"mark":"text","encoding":{}},{"bounds":"flush","spacing":0,"hconcat":[{"width":11.5,"height":1,"mark":"text","encoding":{}},
{"width":84,"height":137,"view":{"stroke":"#e4e4e4"},"data":{"values":[{"name":"Canon imageC.."},{"name":"Martin Yale Ch.."},{"name":"GBC DocuBind .."},{"name":"Hewlett Packa.."},{"name":"Samsung Gala.."},{"name":"Cubify CubeX .."},{"name":"Fellowes PB50.."},{"name":"HON 5400 Seri.."}]},"mark":{"type":"text","align":"left","dx":5,"dy":1,"fontSize":10.4,"color":"#9a9a9a"},"encoding":{"x":{"datum":0,"type":"quantitative","axis":null,"scale":{"domain":[0,1]}},"y":{"field":"name","type":"nominal","sort":null,"scale":{"type":"band","range":[0,139.2],"paddingInner":0,"paddingOuter":0},"axis":{"grid":true,"tickBand":"extent","gridColor":"#f2f2f2","labels":false,"ticks":false,"domain":false,"title":null}},"text":{"field":"name"}}}]}]},
{"bounds":"flush","spacing":0,"vconcat":[{"width":1,"height":612,"mark":"text","encoding":{}},{"bounds":"flush","spacing":0,"hconcat":[{"width":95.5,"height":1,"mark":"text","encoding":{}},
{"width":231.5,"height":137,"view":{"stroke":"#d8d8d8","strokeWidth":1.2},"data":{"values":[{"name":"Canon imageC..","sales":35700,"t":"$35,700"},{"name":"Martin Yale Ch..","sales":11826,"t":"$11,826"},{"name":"GBC DocuBind ..","sales":10943,"t":"$10,943"},{"name":"Hewlett Packa..","sales":9240,"t":"$9,240"},{"name":"Samsung Gala..","sales":9240,"t":"$9,240"},{"name":"Cubify CubeX ..","sales":8000,"t":"$8,000"},{"name":"Fellowes PB50..","sales":7372,"t":"$7,372"},{"name":"HON 5400 Seri..","sales":7220,"t":"$7,220"}]},
"encoding":{"y":{"field":"name","type":"nominal","sort":null,"axis":null,"scale":{"type":"band","range":[0,139.2],"paddingInner":0,"paddingOuter":0}},"x":{"field":"sales","type":"quantitative","scale":{"domain":[0,50150],"nice":false},"axis":{"values":[10000,20000,30000,40000],"grid":true,"gridColor":"#f0f0f0","labels":false,"ticks":false,"domain":false,"title":null}}},
"layer":[{"mark":{"type":"bar","size":3.2,"color":"#c4c4c4"}},{"mark":{"type":"circle","size":72,"color":"#00b887","opacity":1}},{"mark":{"type":"text","align":"left","dx":15,"dy":1,"fontSize":11,"color":"#555555"},"encoding":{"text":{"field":"t"}}}]}]}]},
{"bounds":"flush","spacing":0,"vconcat":[{"width":1,"height":612,"mark":"text","encoding":{}},{"bounds":"flush","spacing":0,"hconcat":[{"width":343.5,"height":1,"mark":"text","encoding":{}},
{"width":83.5,"height":137,"view":{"stroke":"#e4e4e4"},"data":{"values":[{"name":"Raymond Buch"},{"name":"Tom Ashbrook"},{"name":"Hunter Lopez"},{"name":"Seth Vernon"},{"name":"Grant Thornton"},{"name":"Helen Wasser.."},{"name":"Todd Sumrall"},{"name":"Rick Wilson"}]},"mark":{"type":"text","align":"left","dx":5,"dy":1,"fontSize":10.4,"color":"#9a9a9a"},"encoding":{"x":{"datum":0,"type":"quantitative","axis":null,"scale":{"domain":[0,1]}},"y":{"field":"name","type":"nominal","sort":null,"scale":{"type":"band","range":[0,139.2],"paddingInner":0,"paddingOuter":0},"axis":{"grid":true,"tickBand":"extent","gridColor":"#f2f2f2","labels":false,"ticks":false,"domain":false,"title":null}},"text":{"field":"name"}}}]}]},
{"bounds":"flush","spacing":0,"vconcat":[{"width":1,"height":612,"mark":"text","encoding":{}},{"bounds":"flush","spacing":0,"hconcat":[{"width":427,"height":1,"mark":"text","encoding":{}},
{"width":231.5,"height":137,"view":{"stroke":"#d8d8d8","strokeWidth":1.2},"data":{"values":[{"name":"Raymond Buch","sales":14203,"t":"$14,203"},{"name":"Tom Ashbrook","sales":13723,"t":"$13,723"},{"name":"Hunter Lopez","sales":10523,"t":"$10,523"},{"name":"Seth Vernon","sales":8460,"t":"$8,460"},{"name":"Grant Thornton","sales":8167,"t":"$8,167"},{"name":"Helen Wasser..","sales":8166,"t":"$8,166"},{"name":"Todd Sumrall","sales":6702,"t":"$6,702"},{"name":"Rick Wilson","sales":6193,"t":"$6,193"}]},
"encoding":{"y":{"field":"name","type":"nominal","sort":null,"axis":null,"scale":{"type":"band","range":[0,139.2],"paddingInner":0,"paddingOuter":0}},"x":{"field":"sales","type":"quantitative","scale":{"domain":[0,19957],"nice":false},"axis":{"values":[5000,10000,15000],"grid":true,"gridColor":"#f0f0f0","labels":false,"ticks":false,"domain":false,"title":null}}},
"layer":[{"mark":{"type":"bar","size":3.2,"color":"#c4c4c4"}},{"mark":{"type":"circle","size":72,"color":"#00b887","opacity":1}},{"mark":{"type":"text","align":"left","dx":15,"dy":1,"fontSize":11,"color":"#555555"},"encoding":{"text":{"field":"t"}}}]}]}]},
{"bounds":"flush","spacing":0,"vconcat":[{"width":1,"height":612,"mark":"text","encoding":{}},{"bounds":"flush","spacing":0,"hconcat":[{"width":674.7,"height":1,"mark":"text","encoding":{}},
{"width":69.5,"height":137,"view":{"stroke":"#e4e4e4"},"data":{"values":[{"name":"Phones"},{"name":"Chairs"},{"name":"Binders"},{"name":"Storage"},{"name":"Copiers"},{"name":"Tables"},{"name":"Accessories"},{"name":"Machines"}]},"mark":{"type":"text","align":"left","dx":5,"dy":1,"fontSize":10.4,"color":"#9a9a9a"},"encoding":{"x":{"datum":0,"type":"quantitative","axis":null,"scale":{"domain":[0,1]}},"y":{"field":"name","type":"nominal","sort":null,"scale":{"type":"band","range":[0,139.2],"paddingInner":0,"paddingOuter":0},"axis":{"grid":true,"tickBand":"extent","gridColor":"#f2f2f2","labels":false,"ticks":false,"domain":false,"title":null}},"text":{"field":"name"}}}]}]},
{"bounds":"flush","spacing":0,"vconcat":[{"width":1,"height":612,"mark":"text","encoding":{}},{"bounds":"flush","spacing":0,"hconcat":[{"width":744.3,"height":1,"mark":"text","encoding":{}},
{"width":245,"height":137,"view":{"stroke":"#d8d8d8","strokeWidth":1.2},"data":{"values":[{"name":"Phones","sales":105341,"t":"$105,341"},{"name":"Chairs","sales":95554,"t":"$95,554"},{"name":"Binders","sales":72788,"t":"$72,788"},{"name":"Storage","sales":69678,"t":"$69,678"},{"name":"Copiers","sales":62899,"t":"$62,899"},{"name":"Tables","sales":60894,"t":"$60,894"},{"name":"Accessories","sales":59946,"t":"$59,946"},{"name":"Machines","sales":43545,"t":"$43,545"}]},
"encoding":{"y":{"field":"name","type":"nominal","sort":null,"axis":null,"scale":{"type":"band","range":[0,139.2],"paddingInner":0,"paddingOuter":0}},"x":{"field":"sales","type":"quantitative","scale":{"domain":[0,147500],"nice":false},"axis":{"values":[50000,100000],"grid":true,"gridColor":"#f0f0f0","labels":false,"ticks":false,"domain":false,"title":null}}},
"layer":[{"mark":{"type":"bar","size":3.2,"color":"#c4c4c4"}},{"mark":{"type":"circle","size":72,"color":"#00b887","opacity":1}},{"mark":{"type":"text","align":"left","dx":15,"dy":1,"fontSize":11,"color":"#555555"},"encoding":{"text":{"field":"t"}}}]}]}]}
]}
